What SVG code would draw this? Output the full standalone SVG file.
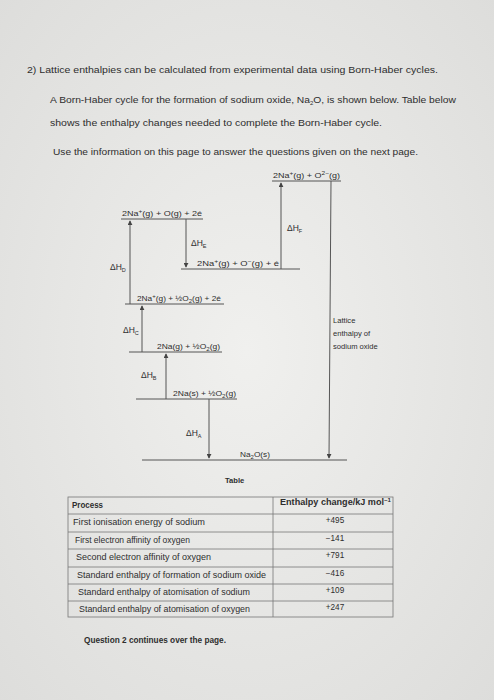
<svg xmlns="http://www.w3.org/2000/svg" width="494" height="700" viewBox="0 0 494 700">
<defs>
<radialGradient id="bg" cx="0.5" cy="0.5" r="0.75">
<stop offset="0" stop-color="#f0f0ee"/>
<stop offset="1" stop-color="#dcdcda"/>
</radialGradient>
<marker id="ah" viewBox="0 0 6 6" refX="5" refY="3" markerWidth="5" markerHeight="5" orient="auto">
<path d="M0,0 L6,3 L0,6 z" fill="#444"/>
</marker>
<style>
text{font-family:"Liberation Sans",Arial,sans-serif;fill:#2e2e2e}
.hd{font-size:9.5px}
.lb{font-size:7.6px}
.dh{font-size:8.5px}
.sb{font-size:5.5px}
.tb{font-size:8.2px}
.ln{stroke:#555;stroke-width:1;fill:none}
.ar{stroke:#555;stroke-width:1;fill:none;marker-end:url(#ah)}
.tl{stroke:#777;stroke-width:0.8;fill:none}
</style>
</defs>
<rect width="494" height="700" fill="url(#bg)"/>

<g id="header">
<text class="hd" x="27" y="73" textLength="411" lengthAdjust="spacingAndGlyphs">2)  Lattice enthalpies can be calculated from experimental data using Born-Haber cycles.</text>
<text class="hd" x="50" y="103" textLength="406" lengthAdjust="spacingAndGlyphs">A Born-Haber cycle for the formation of sodium oxide, Na<tspan class="sb" dy="2">2</tspan><tspan dy="-2">O, is shown below. Table below</tspan></text>
<text class="hd" x="50" y="126" textLength="332" lengthAdjust="spacingAndGlyphs">shows the enthalpy changes needed to complete the Born-Haber cycle.</text>
<text class="hd" x="53" y="155" textLength="365" lengthAdjust="spacingAndGlyphs">Use the information on this page to answer the questions given on the next page.</text>
</g>

<g id="connectors">
<line class="ln" x1="272" y1="181" x2="341" y2="181"/>
<line class="ln" x1="121" y1="219" x2="203" y2="219"/>
<line class="ln" x1="181" y1="269" x2="300" y2="269"/>
<line class="ln" x1="125" y1="304" x2="224" y2="304"/>
<line class="ln" x1="129" y1="352" x2="222" y2="352"/>
<line class="ln" x1="136" y1="399" x2="237" y2="399"/>
<line class="ln" x1="142" y1="460" x2="347" y2="460"/>
<line class="ar" x1="130" y1="304" x2="130" y2="221"/>
<line class="ar" x1="186" y1="219" x2="186" y2="267"/>
<line class="ar" x1="281" y1="269" x2="281" y2="183"/>
<line class="ar" x1="331" y1="181" x2="329" y2="458"/>
<line class="ar" x1="142" y1="352" x2="142" y2="306"/>
<line class="ar" x1="166" y1="399" x2="166" y2="354"/>
<line class="ar" x1="209" y1="399" x2="209" y2="458"/>
</g>

<g id="n-top">
<text class="lb" x="273" y="178" textLength="67" lengthAdjust="spacingAndGlyphs">2Na<tspan class="sb" dy="-3">+</tspan><tspan dy="3">(g) + O</tspan><tspan class="sb" dy="-3">2−</tspan><tspan dy="3">(g)</tspan></text>
</g>
<g id="n-atoms-ions">
<text class="lb" x="122" y="216" textLength="80" lengthAdjust="spacingAndGlyphs">2Na<tspan class="sb" dy="-3">+</tspan><tspan dy="3">(g) + O(g) + 2é</tspan></text>
</g>
<g id="n-o-minus">
<text class="lb" x="197" y="266" textLength="82" lengthAdjust="spacingAndGlyphs">2Na<tspan class="sb" dy="-3">+</tspan><tspan dy="3">(g) + O</tspan><tspan class="sb" dy="-3">−</tspan><tspan dy="3">(g) + é</tspan></text>
</g>
<g id="n-na-ion">
<text class="lb" x="137" y="301" textLength="84" lengthAdjust="spacingAndGlyphs">2Na<tspan class="sb" dy="-3">+</tspan><tspan dy="3">(g) + ½O</tspan><tspan class="sb" dy="2">2</tspan><tspan dy="-2">(g) + 2é</tspan></text>
</g>
<g id="n-na-gas">
<text class="lb" x="157" y="349" textLength="63" lengthAdjust="spacingAndGlyphs">2Na(g) + ½O<tspan class="sb" dy="2">2</tspan><tspan dy="-2">(g)</tspan></text>
</g>
<g id="n-na-solid">
<text class="lb" x="173" y="396" textLength="63" lengthAdjust="spacingAndGlyphs">2Na(s) + ½O<tspan class="sb" dy="2">2</tspan><tspan dy="-2">(g)</tspan></text>
</g>
<g id="n-na2o">
<text class="lb" x="240" y="457" textLength="30" lengthAdjust="spacingAndGlyphs">Na<tspan class="sb" dy="2">2</tspan><tspan dy="-2">O(s)</tspan></text>
</g>

<g id="labels">
<text class="dh" x="110" y="270">ΔH<tspan class="sb" dy="1.5">D</tspan></text>
<text class="dh" x="191" y="246">ΔH<tspan class="sb" dy="1.5">E</tspan></text>
<text class="dh" x="287" y="231">ΔH<tspan class="sb" dy="1.5">F</tspan></text>
<text class="dh" x="123" y="333">ΔH<tspan class="sb" dy="1.5">C</tspan></text>
<text class="dh" x="141" y="378">ΔH<tspan class="sb" dy="1.5">B</tspan></text>
<text class="dh" x="186" y="436">ΔH<tspan class="sb" dy="1.5">A</tspan></text>
<text class="lb" x="333" y="323">Lattice</text>
<text class="lb" x="333" y="336">enthalpy of</text>
<text class="lb" x="333" y="349">sodium oxide</text>
<text class="lb" x="225" y="483" font-weight="bold">Table</text>
</g>

<g id="table">
<rect class="tl" x="68" y="497" width="325" height="120"/>
<line class="tl" x1="273" y1="497" x2="273" y2="617"/>
<line class="tl" x1="68" y1="514" x2="393" y2="514"/>
<line class="tl" x1="68" y1="532" x2="393" y2="532"/>
<line class="tl" x1="68" y1="549" x2="393" y2="549"/>
<line class="tl" x1="68" y1="567" x2="393" y2="567"/>
<line class="tl" x1="68" y1="584" x2="393" y2="584"/>
<line class="tl" x1="68" y1="601" x2="393" y2="601"/>
<text class="tb" x="72" y="508" font-weight="bold" textLength="31" lengthAdjust="spacingAndGlyphs">Process</text>
<text class="tb" x="280" y="505" font-weight="bold" textLength="111" lengthAdjust="spacingAndGlyphs">Enthalpy change/kJ  mol<tspan class="sb" dy="-3">−1</tspan></text>
<text class="tb" x="73" y="525" textLength="132" lengthAdjust="spacingAndGlyphs">First ionisation energy of sodium</text>
<text class="tb" x="75" y="543" textLength="115" lengthAdjust="spacingAndGlyphs">First electron affinity of oxygen</text>
<text class="tb" x="76" y="560" textLength="135" lengthAdjust="spacingAndGlyphs">Second electron affinity of oxygen</text>
<text class="tb" x="77" y="578" textLength="189" lengthAdjust="spacingAndGlyphs">Standard enthalpy of formation of sodium oxide</text>
<text class="tb" x="78" y="595" textLength="172" lengthAdjust="spacingAndGlyphs">Standard enthalpy of atomisation of sodium</text>
<text class="tb" x="79" y="612" textLength="171" lengthAdjust="spacingAndGlyphs">Standard enthalpy of atomisation of oxygen</text>
<g text-anchor="middle">
<text class="tb" x="335" y="523">+495</text>
<text class="tb" x="335" y="541">−141</text>
<text class="tb" x="335" y="558">+791</text>
<text class="tb" x="335" y="576">−416</text>
<text class="tb" x="335" y="593">+109</text>
<text class="tb" x="335" y="610">+247</text>
</g>
</g>

<g id="footer">
<text class="tb" x="84" y="643" font-weight="bold" textLength="142" lengthAdjust="spacingAndGlyphs">Question 2 continues over the page.</text>
</g>
</svg>
